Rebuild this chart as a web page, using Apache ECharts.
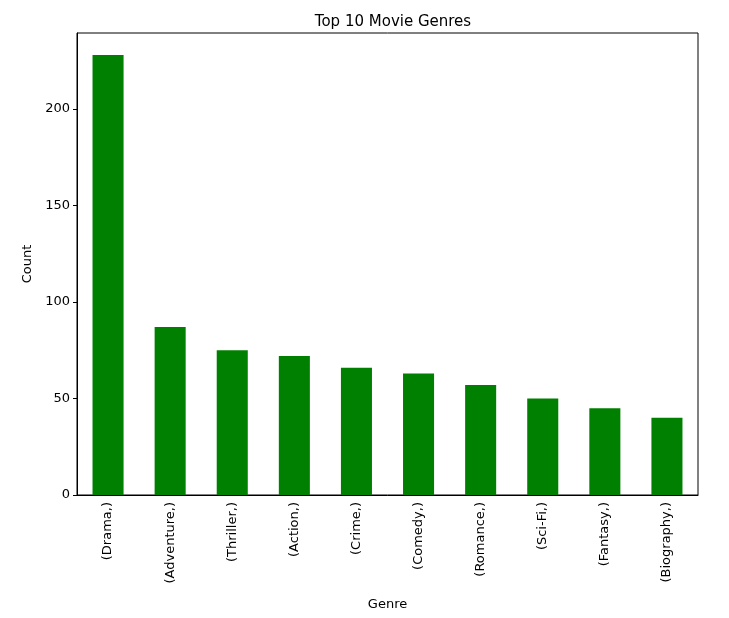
<!DOCTYPE html>
<html>
<head>
<meta charset="utf-8">
<script src="https://cdn.jsdelivr.net/npm/echarts@6/dist/echarts.min.js"></script>
<style>
html,body{margin:0;padding:0;background:#fff;}
#main{width:729px;height:618px;}
</style>
</head>
<body>
<div id="main"></div>
<script>
// genres and counts
var genres=['(Drama,)','(Adventure,)','(Thriller,)','(Action,)','(Crime,)','(Comedy,)','(Romance,)','(Sci-Fi,)','(Fantasy,)','(Biography,)'];
var counts=[228,87,75,72,66,63,57,50,45,40];
var yTicks=[0,50,100,150,200];

var myChart=echarts.init(document.getElementById('main'));
var font='DejaVu Sans';
var option={
	animation:false,
	title:{
		text:'Top 10 Movie Genres',
		left:388,
		top:10,
		textAlign:'center',
		textStyle:{fontFamily:font,fontSize:15,fontWeight:'normal',color:'#000'}
	},
	grid:{
		left:77,right:31,top:33,bottom:123,
		show:true,borderColor:'#000',borderWidth:1
	},
	xAxis:{
		type:'category',
		data:genres,
		name:'Genre',
		nameLocation:'middle',
		nameGap:103,
		nameTextStyle:{fontFamily:font,fontSize:13,color:'#000'},
		axisLine:{lineStyle:{color:'#000',width:1}},
		axisTick:{alignWithLabel:true,length:4,lineStyle:{color:'#000'}},
		axisLabel:{rotate:90,fontFamily:font,fontSize:13,color:'#000',margin:7,interval:0}
	},
	yAxis:{
		type:'value',
		min:0,
		max:239.4,
		interval:50,
		name:'Count',
		nameLocation:'middle',
		nameGap:42,
		nameTextStyle:{fontFamily:font,fontSize:13,color:'#000'},
		splitLine:{show:false},
		axisLine:{show:true,lineStyle:{color:'#000',width:1}},
		axisTick:{show:true,length:4,customValues:yTicks,lineStyle:{color:'#000'}},
		axisLabel:{fontFamily:font,fontSize:13,color:'#000',margin:7,customValues:yTicks}
	},
	series:[{
		type:'bar',
		data:counts,
		barWidth:'50%',
		itemStyle:{color:'#008000'}
	}]
};
myChart.setOption(option);
</script>
</body>
</html>
